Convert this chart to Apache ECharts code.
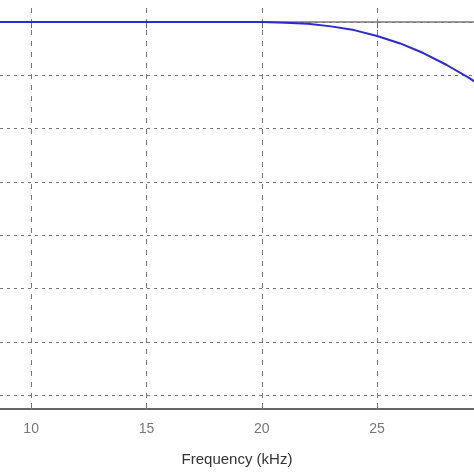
<!DOCTYPE html>
<html>
<head>
<meta charset="utf-8">
<script src="https://cdn.jsdelivr.net/npm/echarts@6/dist/echarts.min.js"></script>
<style>html,body{margin:0;padding:0;background:#fff}#main{width:474px;height:474px}</style>
</head>
<body>
<div id="main"></div>
<script>
// response in dB vs frequency in kHz
var freq = [8, 10, 12, 14, 16, 18, 20, 21, 22, 23, 24, 25, 26, 27, 28, 29, 30];
var gain = [0, 0, 0, 0, 0, 0, 0, -0.01, -0.03, -0.08, -0.15, -0.26, -0.4, -0.58, -0.8, -1.05, -1.35];
var freqTicks = [10, 15, 20, 25];
var gridLevels = [0, -1, -2, -3, -4, -5, -6, -7];

var chart = echarts.init(document.getElementById('main'));
var axisGray = '#666';
var markData = gridLevels.map(function (v) {
	return { yAxis: v, lineStyle: { type: [3, 4] } };
}).concat(freqTicks.map(function (v) {
	return { xAxis: v, lineStyle: { type: [5, 6] } };
}));
chart.setOption({
	animation: false,
	grid: { left: 0, right: 0, top: 4, bottom: 65 },
	xAxis: [{
		type: 'value', min: 8.65, max: 29.2,
		name: 'Frequency (kHz)', nameLocation: 'middle', nameGap: 43,
		nameTextStyle: { color: '#333', fontSize: 15, fontFamily: 'Liberation Sans' },
		axisLine: { onZero: false, lineStyle: { color: axisGray, width: 2 } },
		axisTick: { inside: true, length: 6, customValues: freqTicks, lineStyle: { color: axisGray } },
		axisLabel: { color: '#777', fontSize: 14, margin: 13, customValues: freqTicks, fontFamily: 'Liberation Sans' },
		splitLine: { show: false }
	}, {
		type: 'value', min: 8.65, max: 29.2, position: 'top',
		axisLine: { show: true, lineStyle: { color: '#999', width: 2 } },
		axisTick: { inside: true, length: 6, customValues: freqTicks, lineStyle: { color: axisGray } },
		axisLabel: { show: false }, splitLine: { show: false }
	}],
	yAxis: {
		type: 'value', min: -7.26, max: 0.34,
		axisLine: { show: false }, axisTick: { show: false },
		axisLabel: { show: false }, splitLine: { show: false }
	},
	series: [{
		type: 'line', showSymbol: false, clip: true,
		data: freq.map(function (f, i) { return [f, gain[i]]; }),
		lineStyle: { color: '#2a2ad6', width: 2 },
		markLine: {
			silent: true, symbol: 'none', label: { show: false },
			lineStyle: { color: '#777', width: 1 },
			data: markData
		},
		z: 5
	}]
});
</script>
</body>
</html>
